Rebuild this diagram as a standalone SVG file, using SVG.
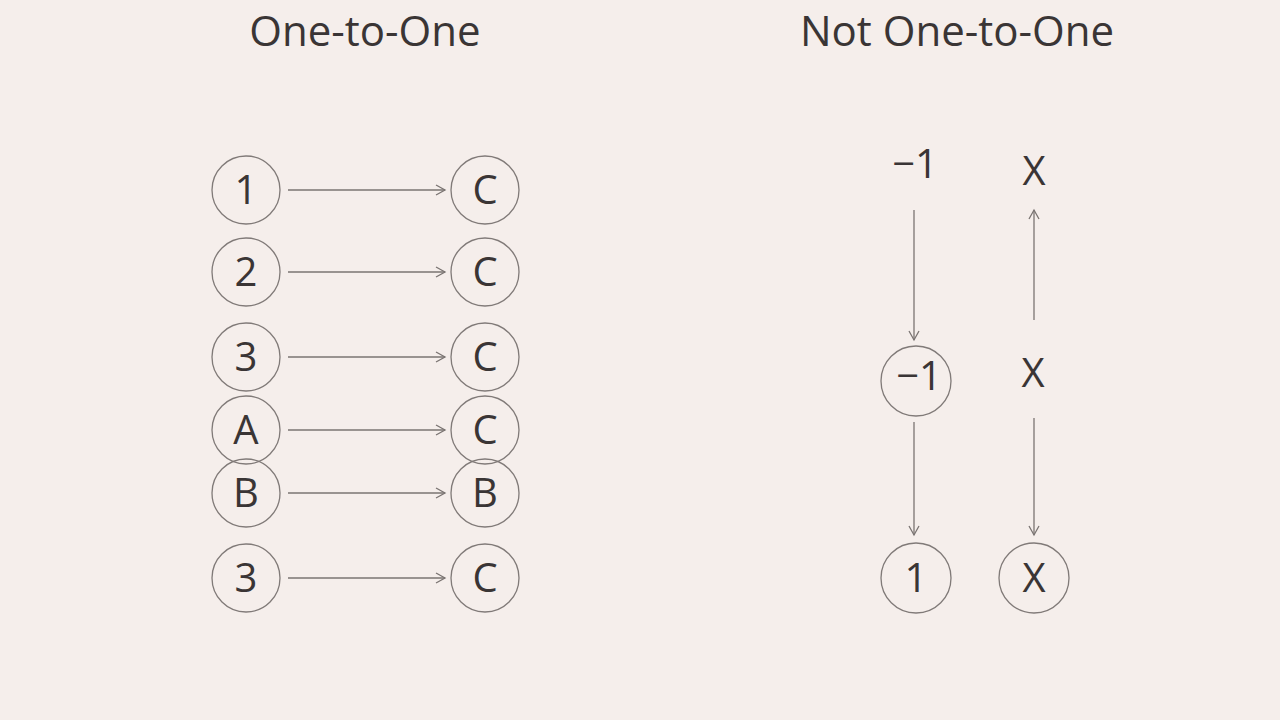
<svg xmlns="http://www.w3.org/2000/svg" width="1280" height="720" viewBox="0 0 1280 720">
<style>
.c{fill:none;stroke:#807a78;stroke-width:1.3}
.t{font-family:"Open Sans","Noto Sans",sans-serif;fill:#3a3535;text-anchor:middle}
.n{font-size:40px}
.h{font-size:42px}
.a{stroke:#7a7472;stroke-width:1.3;fill:none;marker-end:url(#ar)}
</style>
<defs><marker id="ar" markerWidth="12" markerHeight="12" refX="10" refY="6" orient="auto" markerUnits="userSpaceOnUse"><path d="M1,1 L10,6 L1,11" fill="none" stroke="#7a7472" stroke-width="1.3"/></marker></defs>
<rect width="1280" height="720" fill="#f5eeeb"/>
<text class="t h" x="365" y="46">One-to-One</text>
<text class="t h" x="957" y="46">Not One-to-One</text>
<g id="l1"><circle class="c" cx="246" cy="190" r="34"/><text class="t n" x="246" y="204">1</text></g>
<g id="r1"><circle class="c" cx="485" cy="190" r="34"/><text class="t n" x="485" y="204">C</text></g>
<g id="l2"><circle class="c" cx="246" cy="272" r="34"/><text class="t n" x="246" y="286">2</text></g>
<g id="r2"><circle class="c" cx="485" cy="272" r="34"/><text class="t n" x="485" y="286">C</text></g>
<g id="l3"><circle class="c" cx="246" cy="357" r="34"/><text class="t n" x="246" y="371">3</text></g>
<g id="r3"><circle class="c" cx="485" cy="357" r="34"/><text class="t n" x="485" y="371">C</text></g>
<g id="l4"><circle class="c" cx="246" cy="430" r="34"/><text class="t n" x="246" y="444">A</text></g>
<g id="r4"><circle class="c" cx="485" cy="430" r="34"/><text class="t n" x="485" y="444">C</text></g>
<g id="l5"><circle class="c" cx="246" cy="493" r="34"/><text class="t n" x="246" y="507">B</text></g>
<g id="r5"><circle class="c" cx="485" cy="493" r="34"/><text class="t n" x="485" y="507">B</text></g>
<g id="l6"><circle class="c" cx="246" cy="578" r="34"/><text class="t n" x="246" y="592">3</text></g>
<g id="r6"><circle class="c" cx="485" cy="578" r="34"/><text class="t n" x="485" y="592">C</text></g>
<g id="m1"><text class="t n" x="915" y="178">−1</text></g>
<g id="x1"><text class="t n" x="1034" y="185">X</text></g>
<g id="m2"><circle class="c" cx="916" cy="381" r="35"/><text class="t n" x="919" y="390">−1</text></g>
<g id="x2"><text class="t n" x="1033" y="387">X</text></g>
<g id="m3"><circle class="c" cx="916" cy="578" r="35"/><text class="t n" x="916" y="592">1</text></g>
<g id="x3"><circle class="c" cx="1034" cy="578" r="35"/><text class="t n" x="1034" y="592">X</text></g>
<g id="connectors">
<line class="a" x1="288" y1="190" x2="445" y2="190"/>
<line class="a" x1="288" y1="272" x2="445" y2="272"/>
<line class="a" x1="288" y1="357" x2="445" y2="357"/>
<line class="a" x1="288" y1="430" x2="445" y2="430"/>
<line class="a" x1="288" y1="493" x2="445" y2="493"/>
<line class="a" x1="288" y1="578" x2="445" y2="578"/>
<line class="a" x1="914" y1="210" x2="914" y2="340"/>
<line class="a" x1="1034" y1="320" x2="1034" y2="210"/>
<line class="a" x1="914" y1="422" x2="914" y2="535"/>
<line class="a" x1="1034" y1="418" x2="1034" y2="535"/>
</g>
</svg>
